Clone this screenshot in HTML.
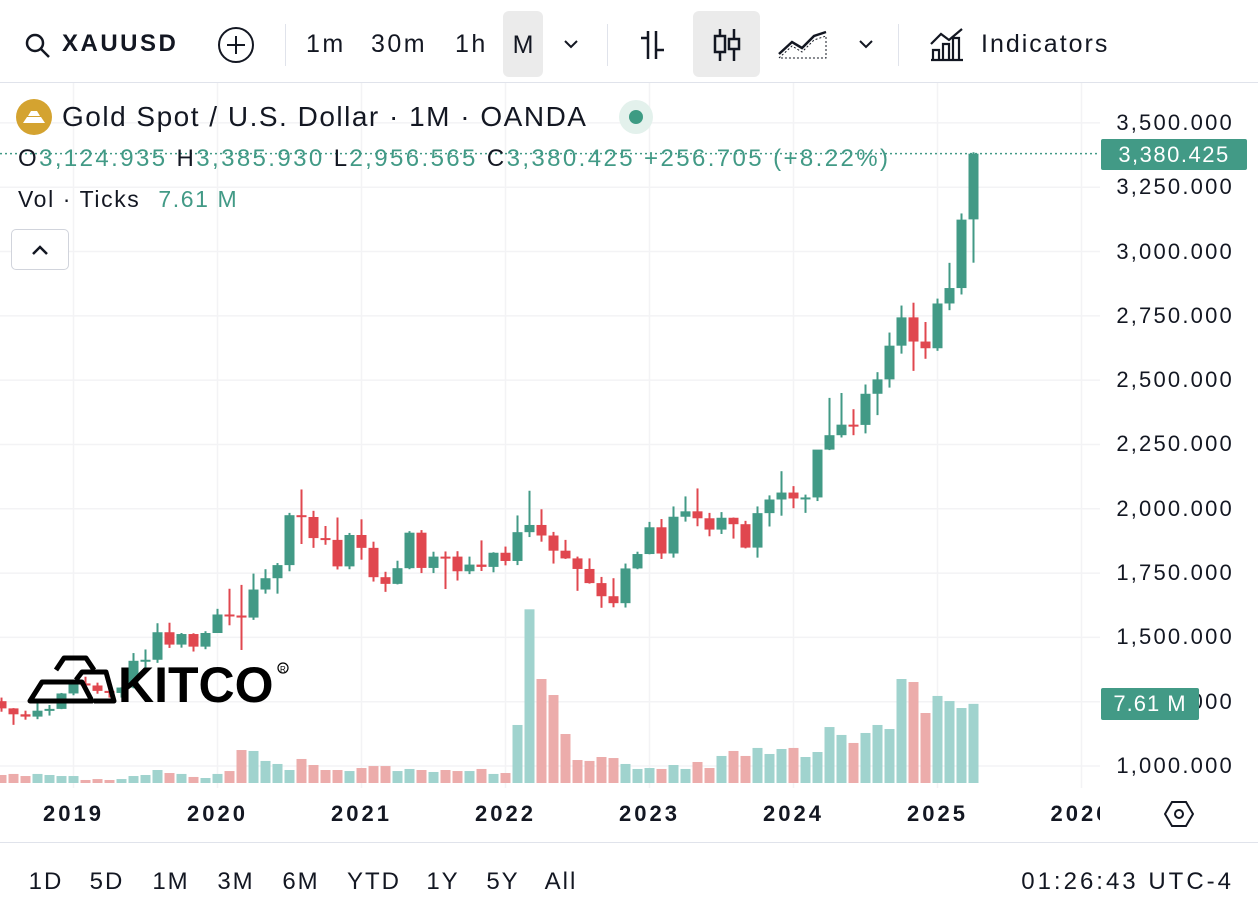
<!DOCTYPE html>
<html><head><meta charset="utf-8">
<style>
body{margin:0;width:1258px;height:918px;overflow:hidden;background:#fff;font-family:"Liberation Sans",sans-serif;color:#131722;position:relative}
.abs{position:absolute}
.tb{font-size:25px;top:30px;letter-spacing:2.5px}
.sep{position:absolute;top:24px;width:1px;height:42px;background:#e0e3eb}
.pl{position:absolute;right:24px;font-size:22px;letter-spacing:2.2px;color:#131722}
.xl{position:absolute;top:801px;font-size:22px;letter-spacing:3px;font-weight:bold;transform:translateX(-50%)}
.rb{position:absolute;top:868px;font-size:24px;letter-spacing:2px;transform:translateX(-50%)}
</style></head><body>
<div class="abs" style="left:0;top:0;width:1258px;height:82px;border-bottom:1px solid #e0e3eb"></div>
<svg class="abs" style="left:24px;top:32px" width="28" height="28"><circle cx="11" cy="11" r="8" fill="none" stroke="#131722" stroke-width="2.5"/><line x1="17" y1="17" x2="25" y2="25" stroke="#131722" stroke-width="2.5"/></svg>
<div class="abs tb" style="left:62px;font-weight:bold;font-size:24px">XAUUSD</div>
<svg class="abs" style="left:217px;top:26px" width="38" height="38"><circle cx="19" cy="19" r="17" fill="none" stroke="#131722" stroke-width="2"/><line x1="19" y1="10" x2="19" y2="28" stroke="#131722" stroke-width="2"/><line x1="10" y1="19" x2="28" y2="19" stroke="#131722" stroke-width="2"/></svg>
<div class="sep" style="left:285px"></div>
<div class="abs tb" style="left:306px">1m</div>
<div class="abs tb" style="left:371px">30m</div>
<div class="abs tb" style="left:455px">1h</div>
<div class="abs" style="left:503px;top:11px;width:40px;height:66px;background:#ebebeb;border-radius:6px;font-size:25px;text-align:center;line-height:68px">M</div>
<svg class="abs" style="left:562px;top:38px" width="18" height="12"><polyline points="3,3 9,9 15,3" fill="none" stroke="#131722" stroke-width="2"/></svg>
<div class="sep" style="left:607px"></div>
<svg class="abs" style="left:636px;top:28px" width="34" height="34"><path d="M12 3V31M5 10H12M20 3V31M20 22H28" stroke="#131722" stroke-width="2.5" fill="none"/></svg>
<div class="abs" style="left:693px;top:11px;width:67px;height:66px;background:#ebebeb;border-radius:6px"></div>
<svg class="abs" style="left:712px;top:27px" width="30" height="36"><path d="M8 2V34M22 2V34" stroke="#131722" stroke-width="2.5"/><rect x="3" y="9" width="10" height="16" fill="#ebebeb" stroke="#131722" stroke-width="2.5"/><rect x="17" y="12" width="10" height="10" fill="#ebebeb" stroke="#131722" stroke-width="2.5"/></svg>
<svg class="abs" style="left:778px;top:30px" width="50" height="30"><polyline points="1,24 14,12 24,18 36,6 48,2" fill="none" stroke="#131722" stroke-width="2.5"/><path d="M1 28L14 16L24 22L36 10L48 6V28Z" fill="none" stroke="#131722" stroke-width="1" stroke-dasharray="2 2"/></svg>
<svg class="abs" style="left:857px;top:38px" width="18" height="12"><polyline points="3,3 9,9 15,3" fill="none" stroke="#131722" stroke-width="2"/></svg>
<div class="sep" style="left:898px"></div>
<svg class="abs" style="left:928px;top:26px" width="38" height="38"><path d="M3 34H35M5 34V24H11V34M15 34V18H21V34M25 34V12H31V34M3 18L13 8L21 14L34 3" stroke="#131722" stroke-width="2.2" fill="none"/></svg>
<div class="abs tb" style="left:981px;font-size:25px;letter-spacing:2px">Indicators</div>

<svg class="abs" style="left:0;top:83px" width="1258" height="760" id="chart"></svg>

<svg class="abs" style="left:16px;top:99px" width="36" height="36"><circle cx="18" cy="18" r="18" fill="#d4a330"/><path d="M7 24L11 18H25L29 24Z M12 17L15 12H21L24 17Z" fill="#fff"/></svg>
<div class="abs" style="left:62px;top:101px;font-size:28px;letter-spacing:1.5px;white-space:nowrap">Gold Spot / U.S. Dollar · 1M · OANDA</div>
<div class="abs" style="left:619px;top:100px;width:34px;height:34px;border-radius:50%;background:#e3f1ec"><div style="margin:10px;width:14px;height:14px;border-radius:50%;background:#3d9b83"></div></div>
<div class="abs" style="left:18px;top:145px;font-size:24px;letter-spacing:2.4px;color:#429a86;white-space:nowrap"><span style="color:#131722">O</span>3,124.935 <span style="color:#131722">H</span>3,385.930 <span style="color:#131722">L</span>2,956.565 <span style="color:#131722">C</span>3,380.425 +256.705 (+8.22%)</div>
<div class="abs" style="left:18px;top:186px;font-size:23px;letter-spacing:1.6px;white-space:nowrap">Vol · Ticks <span style="color:#429a86;margin-left:10px">7.61 M</span></div>
<div class="abs" style="left:11px;top:229px;width:56px;height:39px;border:1px solid #d1d4dc;border-radius:5px;background:#fff"><svg width="56" height="39"><polyline points="21,24 28,17 35,24" fill="none" stroke="#131722" stroke-width="2.5"/></svg></div>

<svg class="abs" style="left:26px;top:655px" width="270" height="52"><g fill="none" stroke="#000" stroke-width="5" stroke-linejoin="round"><path d="M30 15L38 3H60L68 15"/><path d="M4 46L16 27H56L66 46Z"/><path d="M50 25L56 17H80L88 46H68"/></g><text x="92" y="47" font-family="Liberation Sans" font-size="50" font-weight="bold" fill="#000">KITCO</text><circle cx="257" cy="13" r="5" fill="none" stroke="#000" stroke-width="1.2"/><text x="254" y="17" font-size="8" font-family="Liberation Sans">R</text></svg>

<div class="abs" style="left:0;top:842px;width:1258px;height:1px;background:#e0e3eb"></div>
<div class="rb" style="left:46px">1D</div>
<div class="rb" style="left:107px">5D</div>
<div class="rb" style="left:171px">1M</div>
<div class="rb" style="left:236px">3M</div>
<div class="rb" style="left:301px">6M</div>
<div class="rb" style="left:374px">YTD</div>
<div class="rb" style="left:443px">1Y</div>
<div class="rb" style="left:503px">5Y</div>
<div class="rb" style="left:561px">All</div>
<div class="abs" style="right:24px;top:868px;font-size:24px;letter-spacing:3px">01:26:43 UTC-4</div>
<svg class="abs" style="left:1164px;top:799px" width="30" height="30"><polygon points="8,3 22,3 29,15 22,27 8,27 1,15" fill="none" stroke="#131722" stroke-width="2"/><circle cx="15" cy="15" r="4" fill="none" stroke="#131722" stroke-width="2"/></svg>

<script>
const months = ["2018-07","2018-08","2018-09","2018-10","2018-11","2018-12","2019-01","2019-02","2019-03","2019-04","2019-05","2019-06","2019-07","2019-08","2019-09","2019-10","2019-11","2019-12","2020-01","2020-02","2020-03","2020-04","2020-05","2020-06","2020-07","2020-08","2020-09","2020-10","2020-11","2020-12","2021-01","2021-02","2021-03","2021-04","2021-05","2021-06","2021-07","2021-08","2021-09","2021-10","2021-11","2021-12","2022-01","2022-02","2022-03","2022-04","2022-05","2022-06","2022-07","2022-08","2022-09","2022-10","2022-11","2022-12","2023-01","2023-02","2023-03","2023-04","2023-05","2023-06","2023-07","2023-08","2023-09","2023-10","2023-11","2023-12","2024-01","2024-02","2024-03","2024-04","2024-05","2024-06","2024-07","2024-08","2024-09","2024-10","2024-11","2024-12","2025-01","2025-02","2025-03","2025-04"];
const opens = [1252,1224,1201,1192,1215,1222,1282,1321,1313,1292,1284,1305,1409,1413,1520,1472,1513,1464,1517,1589,1585,1577,1686,1730,1781,1975,1968,1886,1879,1776,1898,1848,1734,1708,1769,1907,1770,1814,1814,1757,1783,1774,1829,1797,1909,1937,1896,1837,1807,1766,1711,1660,1633,1768,1824,1928,1826,1969,1990,1963,1919,1965,1940,1849,1983,2036,2063,2040,2044,2230,2286,2327,2326,2447,2503,2634,2744,2650,2624,2798,2858,3124.935];
const highs = [1266,1225,1215,1243,1237,1284,1326,1347,1324,1310,1306,1439,1453,1555,1557,1517,1516,1524,1611,1689,1704,1748,1765,1789,1984,2075,1992,1933,1966,1906,1959,1872,1755,1798,1913,1917,1833,1834,1835,1814,1877,1831,1853,1974,2070,1998,1910,1879,1814,1807,1735,1730,1787,1833,1949,1960,2009,2048,2079,1984,1987,1966,1953,2009,2052,2146,2088,2055,2222,2431,2450,2387,2483,2531,2685,2790,2801,2726,2817,2956,3148,3385.93];
const lows = [1211,1160,1180,1182,1196,1221,1275,1310,1281,1266,1266,1302,1382,1401,1459,1460,1445,1454,1517,1547,1451,1568,1670,1670,1757,1863,1848,1860,1764,1765,1802,1717,1677,1706,1765,1750,1750,1688,1721,1746,1758,1753,1780,1781,1890,1872,1787,1805,1681,1709,1615,1617,1616,1765,1823,1805,1810,1950,1932,1893,1902,1884,1846,1810,1931,1973,2002,1984,2030,2228,2277,2286,2293,2364,2471,2603,2536,2583,2614,2772,2833,2956.565];
const closes = [1224,1201,1192,1215,1222,1282,1321,1313,1292,1284,1305,1409,1413,1520,1472,1513,1464,1517,1589,1585,1577,1686,1730,1781,1975,1968,1886,1879,1776,1898,1848,1734,1708,1769,1907,1770,1814,1813,1757,1783,1774,1829,1797,1909,1937,1896,1837,1807,1766,1711,1660,1633,1768,1824,1928,1826,1969,1990,1963,1919,1965,1940,1849,1983,2036,2063,2040,2044,2230,2286,2327,2326,2447,2503,2634,2744,2650,2624,2798,2858,3124,3380.425];
const volumes = [0.77,0.87,0.67,0.87,0.77,0.67,0.67,0.29,0.38,0.29,0.38,0.67,0.77,1.25,0.96,0.87,0.58,0.48,0.87,1.15,3.17,3.08,2.12,1.83,1.25,2.31,1.73,1.25,1.25,1.15,1.44,1.63,1.63,1.15,1.35,1.25,1.06,1.25,1.15,1.15,1.35,0.87,0.96,5.58,16.7,10.0,8.46,4.71,2.21,2.12,2.5,2.4,1.83,1.35,1.44,1.35,1.73,1.35,2.02,1.44,2.6,3.08,2.6,3.37,2.79,3.27,3.37,2.5,2.98,5.38,4.62,3.85,4.81,5.58,5.19,10.0,9.71,6.73,8.37,7.88,7.21,7.61];
const priceTicks = [1000,1250,1500,1750,2000,2250,2500,2750,3000,3250,3500];
const yearTicks = ["2019","2020","2021","2022","2023","2024","2025","2026"];
const lastPrice = 3380.425;
const lastVolume = "7.61 M";

const svg = document.getElementById('chart');
const NS = 'http://www.w3.org/2000/svg';
const TOP = 83;
const plotW = 1100;
function yOf(p){ return 766 - TOP - (p - 1000) * 0.25724; }
function xOf(i){ return 73.5 + (i - 6) * 12; }
function xYear(k){ return 73.5 + k * 144; }
const volBase = 783 - TOP;
function vh(v){ return v * 10.4; }
function mk(tag, attrs){ const e = document.createElementNS(NS, tag); for (const k in attrs) e.setAttribute(k, attrs[k]); svg.appendChild(e); return e; }

const clip = document.createElementNS(NS,'clipPath'); clip.setAttribute('id','pc');
const cr = document.createElementNS(NS,'rect'); cr.setAttribute('x',0); cr.setAttribute('y',0); cr.setAttribute('width',plotW); cr.setAttribute('height',760);
clip.appendChild(cr); svg.appendChild(clip);

priceTicks.forEach(p => {
  const l = mk('line',{x1:0,x2:plotW,y1:yOf(p),y2:yOf(p),stroke:'#f3f3f5','stroke-width':1.5});
  
  
});
yearTicks.forEach((t,k) => {
  const l = mk('line',{x1:xYear(k),x2:xYear(k),y1:0,y2:705,stroke:'#f3f3f5','stroke-width':1.5});
  
  
});
const g = mk('g',{'clip-path':'url(#pc)'});
months.forEach((m,i) => {
  const up = closes[i] >= opens[i];
  const x = xOf(i);
  const vb = document.createElementNS(NS,'rect');
  vb.setAttribute('x', x-5); vb.setAttribute('width', 10);
  vb.setAttribute('y', volBase - vh(volumes[i])); vb.setAttribute('height', vh(volumes[i]));
  vb.setAttribute('fill', up ? '#a0d3ce' : '#ecacab');
  
  
  g.appendChild(vb);
});
months.forEach((m,i) => {
  const up = closes[i] >= opens[i];
  const col = up ? '#429a86' : '#e0474f';
  const x = xOf(i);
  const w = document.createElementNS(NS,'line');
  w.setAttribute('x1',x); w.setAttribute('x2',x); w.setAttribute('y1',yOf(highs[i])); w.setAttribute('y2',yOf(lows[i]));
  w.setAttribute('stroke',col); w.setAttribute('stroke-width',2);
  
  
  g.appendChild(w);
  const b = document.createElementNS(NS,'rect');
  const t = Math.min(yOf(opens[i]), yOf(closes[i]));
  const h = Math.max(2, Math.abs(yOf(opens[i]) - yOf(closes[i])));
  b.setAttribute('x', x-5); b.setAttribute('width',10); b.setAttribute('y',t); b.setAttribute('height',h);
  b.setAttribute('fill',col);
  
  
  g.appendChild(b);
});
const pl = mk('line',{x1:0,x2:plotW,y1:yOf(lastPrice),y2:yOf(lastPrice),stroke:'#429a86','stroke-width':1.5,'stroke-dasharray':'2 3'});



priceTicks.forEach(p => {
  const d = document.createElement('div');
  d.className = 'pl';
  d.style.top = (yOf(p) + TOP - 13) + 'px';
  d.textContent = p.toLocaleString('en-US',{minimumFractionDigits:3});
  
  
  document.body.appendChild(d);
});
yearTicks.forEach((t,k) => {
  const d = document.createElement('div');
  d.className = 'xl';
  d.style.left = xYear(k) + 'px';
  d.textContent = t;
  if (xYear(k) > 1050) { d.style.transform='none'; d.style.left=(xYear(k)-31)+'px'; d.style.width=(1100-xYear(k)+31)+'px'; d.style.overflow='hidden'; d.style.whiteSpace='nowrap'; }
  
  
  document.body.appendChild(d);
});
const lp = document.createElement('div');
lp.style.cssText = 'position:absolute;left:1101px;width:146px;height:31px;background:#429a86;color:#fff;font-size:22px;letter-spacing:1.5px;text-align:center;line-height:31px;border-radius:2px;top:' + (yOf(lastPrice)+TOP-15) + 'px';
lp.textContent = lastPrice.toLocaleString('en-US',{minimumFractionDigits:3});


document.body.appendChild(lp);
const lv = document.createElement('div');
lv.style.cssText = 'position:absolute;left:1101px;width:98px;height:32px;background:#429a86;color:#fff;font-size:22px;letter-spacing:1px;text-align:center;line-height:32px;border-radius:2px;top:' + (volBase - vh(volumes[volumes.length-1]) + TOP - 16) + 'px';
lv.textContent = lastVolume;


document.body.appendChild(lv);
</script>
</body></html>
